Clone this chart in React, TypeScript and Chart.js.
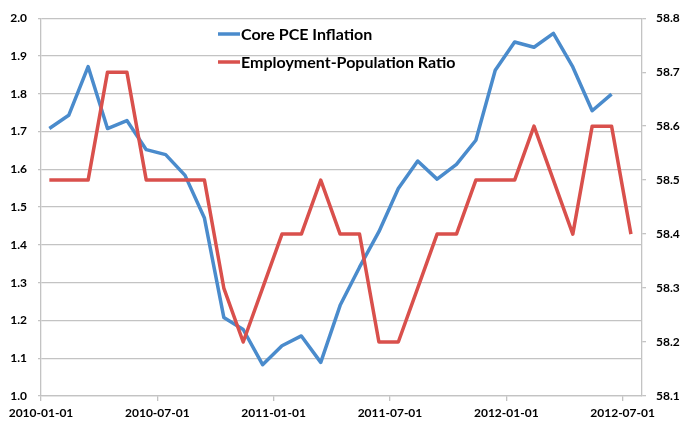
import React, { useEffect, useRef } from "react";
import { Chart, registerables } from "chart.js";

Chart.register(...registerables);

// Monthly observations, 2010-01 .. 2012-07
const months = [
  "2010-01", "2010-02", "2010-03", "2010-04", "2010-05", "2010-06",
  "2010-07", "2010-08", "2010-09", "2010-10", "2010-11", "2010-12",
  "2011-01", "2011-02", "2011-03", "2011-04", "2011-05", "2011-06",
  "2011-07", "2011-08", "2011-09", "2011-10", "2011-11", "2011-12",
  "2012-01", "2012-02", "2012-03", "2012-04", "2012-05", "2012-06",
  "2012-07",
];

const corePce = [
  1.708, 1.743, 1.872, 1.708, 1.729, 1.652, 1.639, 1.584, 1.471, 1.208,
  1.176, 1.083, 1.133, 1.159, 1.089, 1.24, 1.341, 1.435, 1.549, 1.622,
  1.574, 1.613, 1.677, 1.862, 1.937, 1.923, 1.96, 1.871, 1.755, 1.799,
];

const empPopRatio = [
  58.5, 58.5, 58.5, 58.7, 58.7, 58.5, 58.5, 58.5, 58.5, 58.3,
  58.2, 58.3, 58.4, 58.4, 58.5, 58.4, 58.4, 58.2, 58.2, 58.3,
  58.4, 58.4, 58.5, 58.5, 58.5, 58.6, 58.5, 58.4, 58.6, 58.6,
  58.4,
];

const xTickMonths = [0, 6, 12, 18, 24, 30];
const xTickLabels = ["2010-01-01", "2010-07-01", "2011-01-01", "2011-07-01", "2012-01-01", "2012-07-01"];
const leftTicks = [1.0, 1.1, 1.2, 1.3, 1.4, 1.5, 1.6, 1.7, 1.8, 1.9, 2.0];
const rightTicks = [58.1, 58.2, 58.3, 58.4, 58.5, 58.6, 58.7, 58.8];

const seriesNames = ["Core PCE Inflation", "Employment-Population Ratio"];
const BLUE = "#4a8bcc";
const RED = "#d9504c";
const GRID = "#c3c3c3";
const FONT = "Lato";

export default function App() {
  const ref = useRef<HTMLCanvasElement | null>(null);

  useEffect(() => {
    document.body.style.margin = "0";
    const canvas = ref.current;
    if (!canvas) return;

    const monthPos = (i: number) => i + 0.43;

    const legendPlugin = {
      id: "floatLegend",
      afterDatasetsDraw(chart: any) {
        const ctx = chart.ctx;
        const items = [
          { label: seriesNames[0], color: BLUE, y: 34 },
          { label: seriesNames[1], color: RED, y: 62 },
        ];
        ctx.save();
        for (const it of items) {
          ctx.strokeStyle = it.color;
          ctx.lineWidth = 3.5;
          ctx.beginPath();
          ctx.moveTo(218, it.y);
          ctx.lineTo(240, it.y);
          ctx.stroke();
          ctx.fillStyle = "#000";
          ctx.font = `bold 16px ${FONT}`;
          ctx.textBaseline = "middle";
          ctx.textAlign = "left";
          ctx.fillText(it.label, 241, it.y + 1);
        }
        ctx.restore();
      },
    };

    const chart = new Chart(canvas, {
      type: "line",
      data: {
        datasets: [
          {
            label: seriesNames[1],
            data: empPopRatio.map((v, i) => ({ x: monthPos(i), y: v })),
            borderColor: RED,
            backgroundColor: RED,
            borderWidth: 3.5,
            pointRadius: 0,
            tension: 0,
            yAxisID: "yRight",
            borderJoinStyle: "round",
            order: 0,
          },
          {
            label: seriesNames[0],
            data: corePce.map((v, i) => ({ x: monthPos(i), y: v })),
            borderColor: BLUE,
            backgroundColor: BLUE,
            borderWidth: 3.5,
            pointRadius: 0,
            tension: 0,
            yAxisID: "yLeft",
            borderJoinStyle: "round",
            order: 1,
          },
        ],
      },
      options: {
        responsive: false,
        animation: false,
        maintainAspectRatio: false,
        layout: { padding: { top: 12, left: 0, right: 0, bottom: 0 } },
        plugins: {
          legend: { display: false },
          tooltip: { enabled: false },
        },
        scales: {
          x: {
            type: "linear",
            min: 0,
            max: months.length,
            afterBuildTicks: (axis: any) => {
              axis.ticks = xTickMonths.map((v) => ({ value: v }));
            },
            afterFit: (s: any) => {
              s.height = 37;
            },
            ticks: {
              autoSkip: false,
              maxRotation: 0,
              padding: 5,
              color: "#000",
              font: { family: FONT, size: 12, weight: "bold" },
              callback: (v: any) => {
                const k = xTickMonths.indexOf(Number(v));
                return k >= 0 ? xTickLabels[k] : "";
              },
            },
            grid: {
              display: true,
              drawOnChartArea: false,
              drawTicks: true,
              tickLength: 5,
              color: GRID,
              lineWidth: 1.3,
            },
            border: { display: true, color: GRID, width: 1.3 },
          },
          yLeft: {
            type: "linear",
            position: "left",
            min: 1.0,
            max: 2.0,
            afterBuildTicks: (axis: any) => {
              axis.ticks = leftTicks.map((v) => ({ value: v }));
            },
            afterFit: (s: any) => {
              s.width = 41;
            },
            ticks: {
              padding: 11,
              color: "#000",
              font: { family: FONT, size: 12, weight: "bold" },
              callback: (v: any) => Number(v).toFixed(1),
            },
            grid: {
              color: GRID,
              lineWidth: 1.3,
              drawTicks: true,
              tickLength: 3,
            },
            border: { display: true, color: GRID, width: 1.3 },
          },
          yRight: {
            type: "linear",
            position: "right",
            min: 58.1,
            max: 58.8,
            afterBuildTicks: (axis: any) => {
              axis.ticks = rightTicks.map((v) => ({ value: v }));
            },
            afterFit: (s: any) => {
              s.width = 50;
            },
            ticks: {
              padding: 10,
              color: "#000",
              font: { family: FONT, size: 12, weight: "bold" },
              callback: (v: any) => Number(v).toFixed(1),
            },
            grid: {
              drawOnChartArea: false,
              color: GRID,
              lineWidth: 1.3,
              drawTicks: true,
              tickLength: 4,
            },
            border: { display: true, color: GRID, width: 1.3 },
          },
        },
      },
      plugins: [legendPlugin],
    });

    return () => chart.destroy();
  }, []);

  return (
    <div style={{ width: 692, height: 433, background: "#fff" }}>
      <canvas ref={ref} width={692} height={433} style={{ display: "block" }} />
    </div>
  );
}
